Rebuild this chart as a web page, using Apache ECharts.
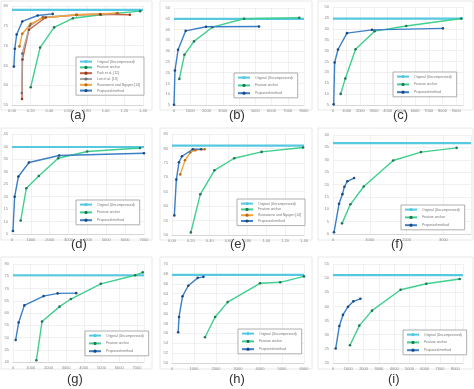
<!DOCTYPE html>
<html><head><meta charset="utf-8">
<script src="https://cdn.jsdelivr.net/npm/echarts@6/dist/echarts.min.js"></script>
<style>html,body{margin:0;padding:0;background:#fff}#c{width:474px;height:389px}</style>
</head><body><div id="c"></div>
<script>
// ---------- DATA ----------
const panelLabels = ['(a)','(b)','(c)','(d)','(e)','(f)','(g)','(h)','(i)'];
// axis ranges [min, max, interval]
const xAxesRange = [[0,1.4,0.2],[0,8000,1000],[0,9500,1000],[0,7000,1000],[0,1.4,0.2],[0,3750,1000],[0,7400,1000],[0,6000,1000],[0,8500,1000]];
const yAxesRange = [[55,80,5],[5,50,5],[5,50,5],[5,45,5],[50,85,5],[0,40,5],[40,80,5],[50,70,2],[20,55,5]];
const originalValues = [79.0, 45.0, 44.7, 39.8, 81.0, 36.7, 75.4, 67.8, 51.1];

const aFeature = [[0.20,59.5],[0.30,69.5],[0.45,74.6],[0.65,76.9],[0.95,77.8],[1.37,78.7]];
const aPark = [[0.107,56.5],[0.112,66.5],[0.18,74.0],[0.36,77.1],[0.69,77.7],[0.94,77.9],[1.26,77.8]];
const aLee = [[0.105,58.0],[0.11,68.0],[0.19,75.0],[0.33,77.2],[0.69,77.8],[1.12,78.1]];
const aRosewarne = [[0.08,69.8],[0.11,73.0],[0.20,75.5],[0.33,77.0],[0.69,77.8],[1.13,78.2]];
const aProposed = [[0.02,64.7],[0.03,69.2],[0.05,72.8],[0.11,76.1],[0.275,77.6],[0.435,78.0]];

const bFeature = [[330,17.1],[640,28.3],[1230,34.5],[2360,41.1],[4310,45.0],[7710,45.5]];
const bProposed = [[0,5.1],[60,21.0],[250,30.6],[720,39.4],[1970,41.3],[5230,41.4]];

const cFeature = [[560,10.1],[900,17.2],[1650,30.6],[3040,38.9],[5350,41.3],[9370,44.7]];
const cProposed = [[50,5.3],[120,24.5],[365,30.5],[1020,38.0],[2850,39.5],[8030,40.2]];

const dFeature = [[460,10.4],[760,23.3],[1420,28.2],[2450,35.3],[3990,38.0],[6790,39.4]];
const dProposed = [[50,6.2],[140,19.9],[340,28.0],[900,33.6],[2500,36.4],[7000,37.3]];

const eFeature = [[0.20,50.9],[0.30,64.1],[0.45,72.4],[0.66,76.6],[0.95,78.8],[1.39,80.3]];
const eRosewarne = [[0.088,71.0],[0.138,75.9],[0.194,78.6],[0.247,79.4],[0.346,79.7]];
const eProposed = [[0.025,56.8],[0.046,69.2],[0.074,75.2],[0.106,77.3],[0.22,79.7],[0.31,79.7]];

const fFeature = [[245,4.3],[473,12.0],[836,19.2],[1636,29.7],[2390,33.1],[3360,34.8]];
const fProposed = [[27,0.7],[164,12.2],[255,16.1],[310,19.1],[390,21.3],[573,22.6]];

const gFeature = [[1320,40.7],[1640,56.5],[2630,62.6],[3270,65.7],[4960,71.9],[6900,75.4],[7330,76.6]];
const gProposed = [[150,49.0],[320,56.1],[640,63.1],[1730,66.9],[2520,68.0],[3570,68.1]];

const hFeature = [[1500,55.2],[1960,59.3],[2530,62.3],[4000,66.1],[4920,66.3],[6000,67.5]];
const hProposed = [[280,56.2],[320,59.3],[480,63.5],[740,65.6],[1170,67.2],[1430,67.4]];

const iFeature = [[1110,26.3],[1720,33.2],[2550,38.5],[4420,45.9],[6100,48.0],[8280,49.7]];
const iProposed = [[175,25.1],[415,33.1],[650,37.0],[980,39.9],[1330,41.8],[1790,42.7]];

const NAMES = {
  orig: 'Original (Uncompressed)', fa: 'Feature anchor', park: 'Park et al. [12]',
  lee: 'Lee et al. [13]', rose: 'Rosewarne and Nguyen [14]', prop: 'Proposed method'
};
const panelSeries = [
  {fa:aFeature, park:aPark, lee:aLee, rose:aRosewarne, prop:aProposed},
  {fa:bFeature, prop:bProposed},
  {fa:cFeature, prop:cProposed},
  {fa:dFeature, prop:dProposed},
  {fa:eFeature, rose:eRosewarne, prop:eProposed},
  {fa:fFeature, prop:fProposed},
  {fa:gFeature, prop:gProposed},
  {fa:hFeature, prop:hProposed},
  {fa:iFeature, prop:iProposed}
];

// ---------- LAYOUT / STYLE ----------
const grids = [
  [12,6,131,99],[174,8,130,97],[333,7,130,98],
  [12,134,132,100],[172,134,132,101],[333,135,138,99],
  [13,264,131,98],[172,264,132,99],[333,264,130,99]
];
const legendPos = [
  [76,57],[234,73],[393,72],
  [76,200],[237,199],[401,205],
  [85,331],[238,329],[403,330]
];
const captionPos = [[79,117],[238,117],[402,117],[80,246],[239,246],[400,246],[76,381],[238,381],[397,381]];
const frames = [[1,1,151,109],[160,1,152,109],[318,1,155,109],[1,128,151,112],[160,128,152,112],[318,128,155,112],[1,257,151,112],[160,257,152,112],[318,257,155,112]];

const COLORS = {orig:'#56c8e2', fa:'#3fcf8e', park:'#c8603f', lee:'#a8a8a8', rose:'#f5a43c', prop:'#3b7fc8'};
const MCOL = {fa:'#23755a', park:'#8a3a22', lee:'#6e6e6e', rose:'#b86d12', prop:'#1d4a7e'};

const option = {
  animation:false, backgroundColor:'#fff',
  grid:[], xAxis:[], yAxis:[], series:[], legend:[], graphic:[]
};

function fmtX(i){ return (v)=> xAxesRange[i][2] < 1 ? v.toFixed(2) : String(v); }

for (let i=0;i<9;i++){
  const [l,t,w,h] = grids[i];
  option.grid.push({left:l, top:t, width:w, height:h, containLabel:false});
  const xr = xAxesRange[i], yr = yAxesRange[i];
  const onTick = Math.abs(xr[1]/xr[2] - Math.round(xr[1]/xr[2])) < 1e-9;
  option.xAxis.push({type:'value', gridIndex:i, min:xr[0], max:xr[1], interval:xr[2],
    axisLine:{show:true, lineStyle:{color:'#d0d0d0', width:0.8}}, axisTick:{show:false},
    splitLine:{show:true, lineStyle:{color:'#e8e8e8', width:0.6}},
    axisLabel:{fontSize:4, color:'#8a8a8a', margin:4, formatter:fmtX(i), showMaxLabel:onTick}});
  option.yAxis.push({type:'value', gridIndex:i, min:yr[0], max:yr[1], interval:yr[2],
    axisLine:{show:false}, axisTick:{show:false},
    splitLine:{show:true, lineStyle:{color:'#e8e8e8', width:0.6}},
    axisLabel:{fontSize:4, color:'#8a8a8a', margin:4}});
  // original line
  option.series.push({type:'line', name:NAMES.orig, xAxisIndex:i, yAxisIndex:i,
    data:[[xr[0],originalValues[i]],[xr[1],originalValues[i]]], showSymbol:false, symbol:'none',
    lineStyle:{color:COLORS.orig, width:2.2}, itemStyle:{color:COLORS.orig}, z:2});
  const ps = panelSeries[i];
  const legendNames = [NAMES.orig];
  ['fa','park','lee','rose','prop'].forEach(k=>{
    if(!ps[k]) return;
    legendNames.push(NAMES[k]);
    option.series.push({type:'line', name:NAMES[k], xAxisIndex:i, yAxisIndex:i, data:ps[k],
      symbol:'circle', symbolSize:2.6, showSymbol:true,
      lineStyle:{color:COLORS[k], width:1.4}, itemStyle:{color:MCOL[k]}, z:3});
  });
  const many = legendNames.length > 3;
  option.legend.push({orient:'vertical', left:legendPos[i][0], top:legendPos[i][1],
    data:legendNames,
    itemWidth:12, itemHeight:4, itemGap: many?2.6:4.6, padding: many?[3,4,3,3]:[3,5,3,3],
    borderColor:'#9a9a9a', borderWidth:0.8, backgroundColor:'#fff',
    textStyle:{fontSize:3.4, color:'#777'}, selectedMode:false});
  // caption
  option.graphic.push({type:'text', left:captionPos[i][0]-9, top:captionPos[i][1]-8,
    style:{text:panelLabels[i], fontSize:13, fill:'#333', font:'13px "Liberation Sans", Arial, sans-serif'}});
  const fr = frames[i];
  option.graphic.push({type:'rect', shape:{x:fr[0], y:fr[1], width:fr[2], height:fr[3]}, z:-10,
    style:{fill:'none', stroke:'#e2e2e2', lineWidth:0.8}});
}

const chart = echarts.init(document.getElementById('c'), null, {renderer:'canvas'});
chart.setOption(option);
</script></body></html>
